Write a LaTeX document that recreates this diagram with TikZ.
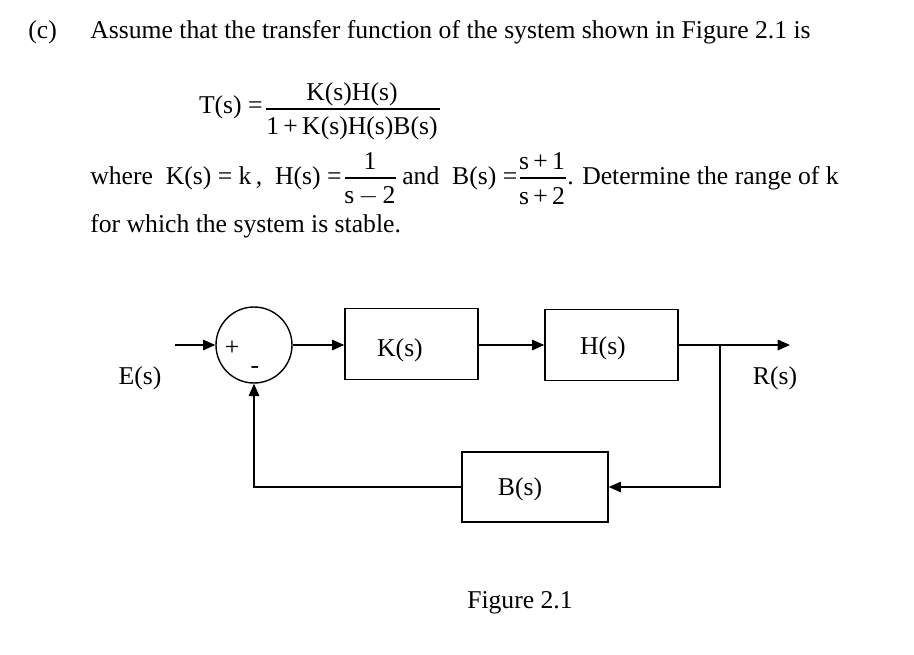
\documentclass[tikz,border=0pt]{standalone}
\usepackage{fontspec}
\setmainfont{Liberation Serif}
\usetikzlibrary{arrows.meta}
\begin{document}
\begin{tikzpicture}[x=0.02cm,y=-0.02cm,
  every node/.style={font=\fontsize{14.6pt}{17pt}\selectfont, inner sep=0pt},
  blk/.style={draw, line width=0.8pt, minimum width=2.66cm, minimum height=1.42cm},
  wire/.style={line width=0.8pt},
  arr/.style={wire, -{Triangle[length=7pt,width=6pt]}}]
\useasboundingbox (0,0) rectangle (914,654);
\node[anchor=west] (c) at (28,32) {(c)};
\node[anchor=west] (l1) at (90,32) {Assume that the transfer function of the system shown in Figure 2.1 is};
\node[anchor=east] (ts) at (263,107) {T(s) =};
\node (num) at (352,94) {K(s)H(s)};
\node (den) at (352,128) {1\,+\,K(s)H(s)B(s)};
\draw[line width=0.6pt] (266,109) -- (440,109);
\node[anchor=west] (w) at (90,178) {where\ \ K(s) = k\,,\ \ H(s) =};
\node (hn) at (370,161) {1};
\node (hd) at (370,196) {s\,$-$\,2};
\draw[line width=0.6pt] (345,178) -- (396,178);
\node[anchor=west] (and) at (402,178) {and\ \ B(s) =};
\node (bn) at (542,161) {s\,+\,1};
\node (bd) at (542,196) {s\,+\,2};
\draw[line width=0.6pt] (520,178) -- (566,178);
\node[anchor=west] (det) at (567,178) {. Determine the range of k};
\node[anchor=west] (l3) at (90,226) {for which the system is stable.};

\node[draw, line width=0.8pt, circle, minimum size=1.52cm] (sum) at (254,345) {};
\node (plus) at (232,348) {+};
\node (minus) at (255,370) {-};
\coordinate (in) at (175,345);
\node (E) at (140,378) {E(s)};
\node[blk] (K) at (411.5,344) {};
\node (Kt) at (400,350) {K(s)};
\node[blk] (H) at (611.5,345) {};
\node (Ht) at (603,348) {H(s)};
\node[blk, minimum width=2.92cm, minimum height=1.4cm] (B) at (535,487) {};
\node (Bt) at (520,489) {B(s)};
\coordinate (out) at (790,345);
\coordinate (br) at (720,345);
\node (R) at (775,378) {R(s)};
\node (fig) at (520,603) {Figure 2.1};

\draw[arr] (in) -- (sum.west);
\draw[arr] (sum.east) -- (K.west |- sum.east);
\draw[arr] (K.east |- H.west) -- (H.west);
\draw[arr] (H.east) -- (out);
\draw[arr] (br) |- (B.east);
\draw[arr] (B.west) -| (sum.south);
\end{tikzpicture}
\end{document}
